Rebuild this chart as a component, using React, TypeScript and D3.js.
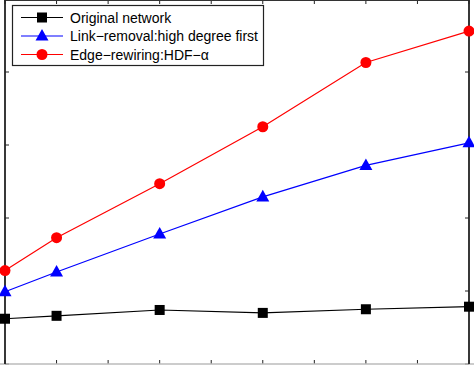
import React from "react";
import * as d3 from "d3";

const xValues = [0, 1, 3, 5, 7, 9];
const xTicks = [0, 1, 2, 3, 4, 5, 6, 7, 8, 9];
const yTicks = [0, 1, 2, 3, 4, 5];
const originalNetwork = [0.62, 0.66, 0.74, 0.70, 0.75, 0.785];
const linkRemoval = [0.99, 1.26, 1.78, 2.29, 2.72, 3.03];
const edgeRewiring = [1.28, 1.73, 2.47, 3.25, 4.13, 4.56];
const seriesNames = ["Original network", "Link\u2212removal:high degree first", "Edge\u2212rewiring:HDF\u2212\u03b1"];

const W = 474;
const H = 366;

export default function App() {
  const x = d3.scaleLinear().domain([0, 9]).range([5, 469]);
  const y = d3.scaleLinear().domain([0, 5]).range([364, -1]);
  const line = d3
    .line<[number, number]>()
    .x((d) => x(d[0]))
    .y((d) => y(d[1]));

  const series = [
    { name: seriesNames[0], values: originalNetwork, color: "#000000", marker: "square" },
    { name: seriesNames[1], values: linkRemoval, color: "#0000ff", marker: "triangle" },
    { name: seriesNames[2], values: edgeRewiring, color: "#ff0000", marker: "circle" },
  ];

  const marker = (type: string, cx: number, cy: number, color: string, key: string) => {
    if (type === "square") {
      return <rect key={key} x={cx - 5} y={cy - 5} width={10} height={10} fill={color} />;
    }
    if (type === "triangle") {
      const s = 6.5;
      return (
        <path
          key={key}
          d={`M${cx},${cy - s - 0.5}L${cx + s},${cy + s * 0.7}L${cx - s},${cy + s * 0.7}Z`}
          fill={color}
        />
      );
    }
    return <circle key={key} cx={cx} cy={cy} r={5.5} fill={color} />;
  };

  return (
    <svg
      width={W}
      height={H}
      style={{ position: "absolute", left: 0, top: 0, background: "#fff" }}
      fontFamily="'Liberation Sans', Arial, Helvetica, sans-serif"
    >
      <rect x={0} y={0} width={W} height={H} fill="#fff" />
      {/* ticks */}
      {xTicks.map((t) => (
        <g key={`xt${t}`}>
          <line x1={x(t)} x2={x(t)} y1={y(0)} y2={y(0) - 4} stroke="#222" strokeWidth={1} />
          <line x1={x(t)} x2={x(t)} y1={0} y2={4} stroke="#222" strokeWidth={1} />
        </g>
      ))}
      {yTicks.map((t) => (
        <g key={`yt${t}`}>
          <line x1={x(0)} x2={x(0) + 4} y1={y(t)} y2={y(t)} stroke="#222" strokeWidth={1} />
          <line x1={x(9)} x2={x(9) - 4} y1={y(t)} y2={y(t)} stroke="#222" strokeWidth={1} />
        </g>
      ))}
      {/* axes frame */}
      <line x1={0} x2={W} y1={y(0)} y2={y(0)} stroke="#bbb" strokeWidth={1.5} />
      <line x1={x(0)} x2={x(9)} y1={0.5} y2={0.5} stroke="#333" strokeWidth={1} />
      <line x1={x(0)} x2={x(0)} y1={0} y2={y(0)} stroke="#222" strokeWidth={1.8} />
      <line x1={x(9)} x2={x(9)} y1={0} y2={y(0)} stroke="#222" strokeWidth={1.8} />

      {/* series */}
      {series.map((s) => {
        const pts: [number, number][] = xValues.map((xv, i) => [xv, s.values[i]]);
        return (
          <g key={s.name}>
            <path d={line(pts) || ""} fill="none" stroke={s.color} strokeWidth={1.2} />
            {pts.map((p, i) => marker(s.marker, x(p[0]), y(p[1]), s.color, `${s.name}-${i}`))}
          </g>
        );
      })}

      {/* legend */}
      <rect x={12.5} y={5.5} width={251} height={60} fill="#fff" stroke="#222" strokeWidth={1.2} />
      {series.map((s, i) => {
        const ly = 17.5 + i * 18.5;
        return (
          <g key={`lg${i}`}>
            <line x1={21} x2={63} y1={ly} y2={ly} stroke={s.color} strokeWidth={1.2} />
            {marker(s.marker, 42, ly, s.color, `lm${i}`)}
            <text x={70} y={ly + 5} fontSize={14} fill="#000">
              {s.name}
            </text>
          </g>
        );
      })}
    </svg>
  );
}
